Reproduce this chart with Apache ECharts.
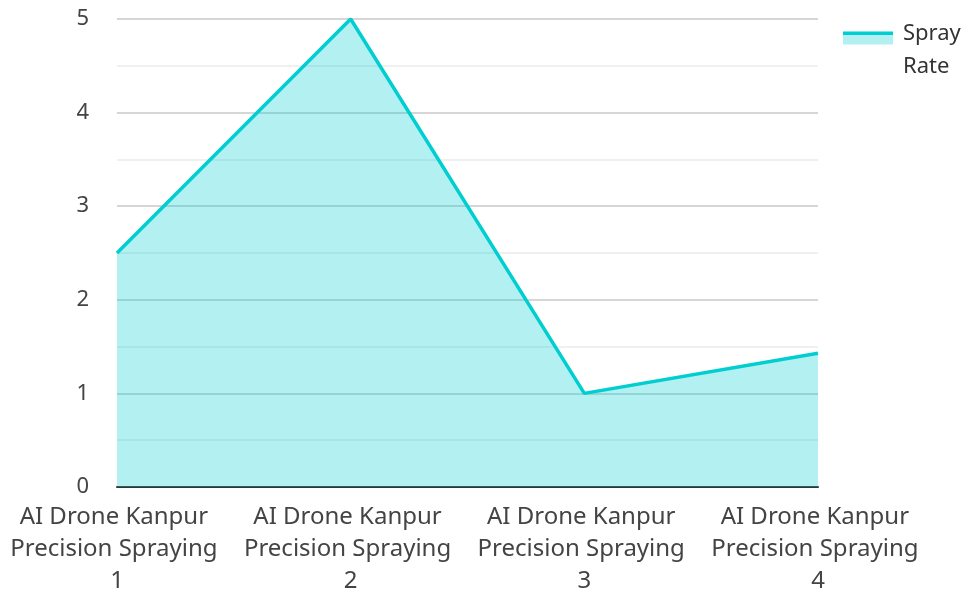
<!DOCTYPE html>
<html>
<head>
<meta charset="utf-8">
<script src="https://cdn.jsdelivr.net/npm/echarts@6/dist/echarts.min.js"></script>
<style>html,body{margin:0;padding:0;background:#fff}#c{width:968px;height:590px}</style>
</head>
<body>
<div id="c"></div>
<script>
const categories = [
  "AI Drone Kanpur Precision Spraying 1",
  "AI Drone Kanpur Precision Spraying 2",
  "AI Drone Kanpur Precision Spraying 3",
  "AI Drone Kanpur Precision Spraying 4"
];
const seriesName = "Spray Rate";
const sprayRate = [2.5, 5, 1, 1.43];
const yTicks = { min: 0, max: 5, interval: 1 };

const lineColor = "#00CED1";
const fillColor = "rgba(0,206,209,0.3)";
const font = "Noto Sans";

const chart = echarts.init(document.getElementById('c'), null, { renderer: 'canvas' });
chart.setOption({
  animation: false,
  backgroundColor: '#fff',
  textStyle: { fontFamily: font },
  grid: { left: 117, right: 150, top: 19, bottom: 103, containLabel: false, outerBoundsMode: 'none' },
  legend: {
    left: 843, top: -7, padding: 0, orient: 'vertical',
    itemWidth: 50, itemHeight: 13, itemGap: 10,
    formatter: function (name) {
      return '{g|}\n' + name.split(' ').map(function (w) { return '{n|' + w + '}'; }).join('\n');
    },
    textStyle: {
      fontFamily: font, fontSize: 22, color: '#333',
      rich: {
        g: { lineHeight: 24, height: 24 },
        n: { fontFamily: font, fontSize: 22, color: '#333', lineHeight: 33, padding: [0, 0, 0, 5] }
      }
    },
    data: [{
      name: seriesName,
      icon: 'rect',
      itemStyle: {
        color: { type: 'linear', x: 0, y: 0, x2: 0, y2: 1, colorStops: [
          { offset: 0, color: lineColor }, { offset: 0.28, color: lineColor },
          { offset: 0.28, color: '#b3f0f1' }, { offset: 1, color: '#b3f0f1' } ] }
      }
    }]
  },
  xAxis: {
    type: 'category', boundaryGap: false, data: categories,
    axisLine: { lineStyle: { color: '#333', width: 2 } },
    axisTick: { show: false },
    axisLabel: { fontFamily: font, fontSize: 24, color: '#444', width: 225, overflow: 'break', lineHeight: 32, margin: 14, interval: 0 }
  },
  yAxis: {
    type: 'value', min: yTicks.min, max: yTicks.max, interval: yTicks.interval,
    axisLine: { show: false }, axisTick: { show: false },
    axisLabel: { fontFamily: font, fontSize: 22, color: '#444', margin: 28 },
    splitLine: { lineStyle: { color: '#c8c8c8', width: 1.5 } },
    minorTick: { show: false, splitNumber: 2 },
    minorSplitLine: { show: true, lineStyle: { color: '#ebebeb', width: 1.5 } }
  },
  series: [{
    name: seriesName, type: 'line', data: sprayRate,
    symbol: 'none', smooth: false,
    lineStyle: { color: lineColor, width: 3.5 },
    itemStyle: { color: lineColor },
    areaStyle: { color: fillColor, opacity: 1 }
  }]
});
</script>
</body>
</html>
